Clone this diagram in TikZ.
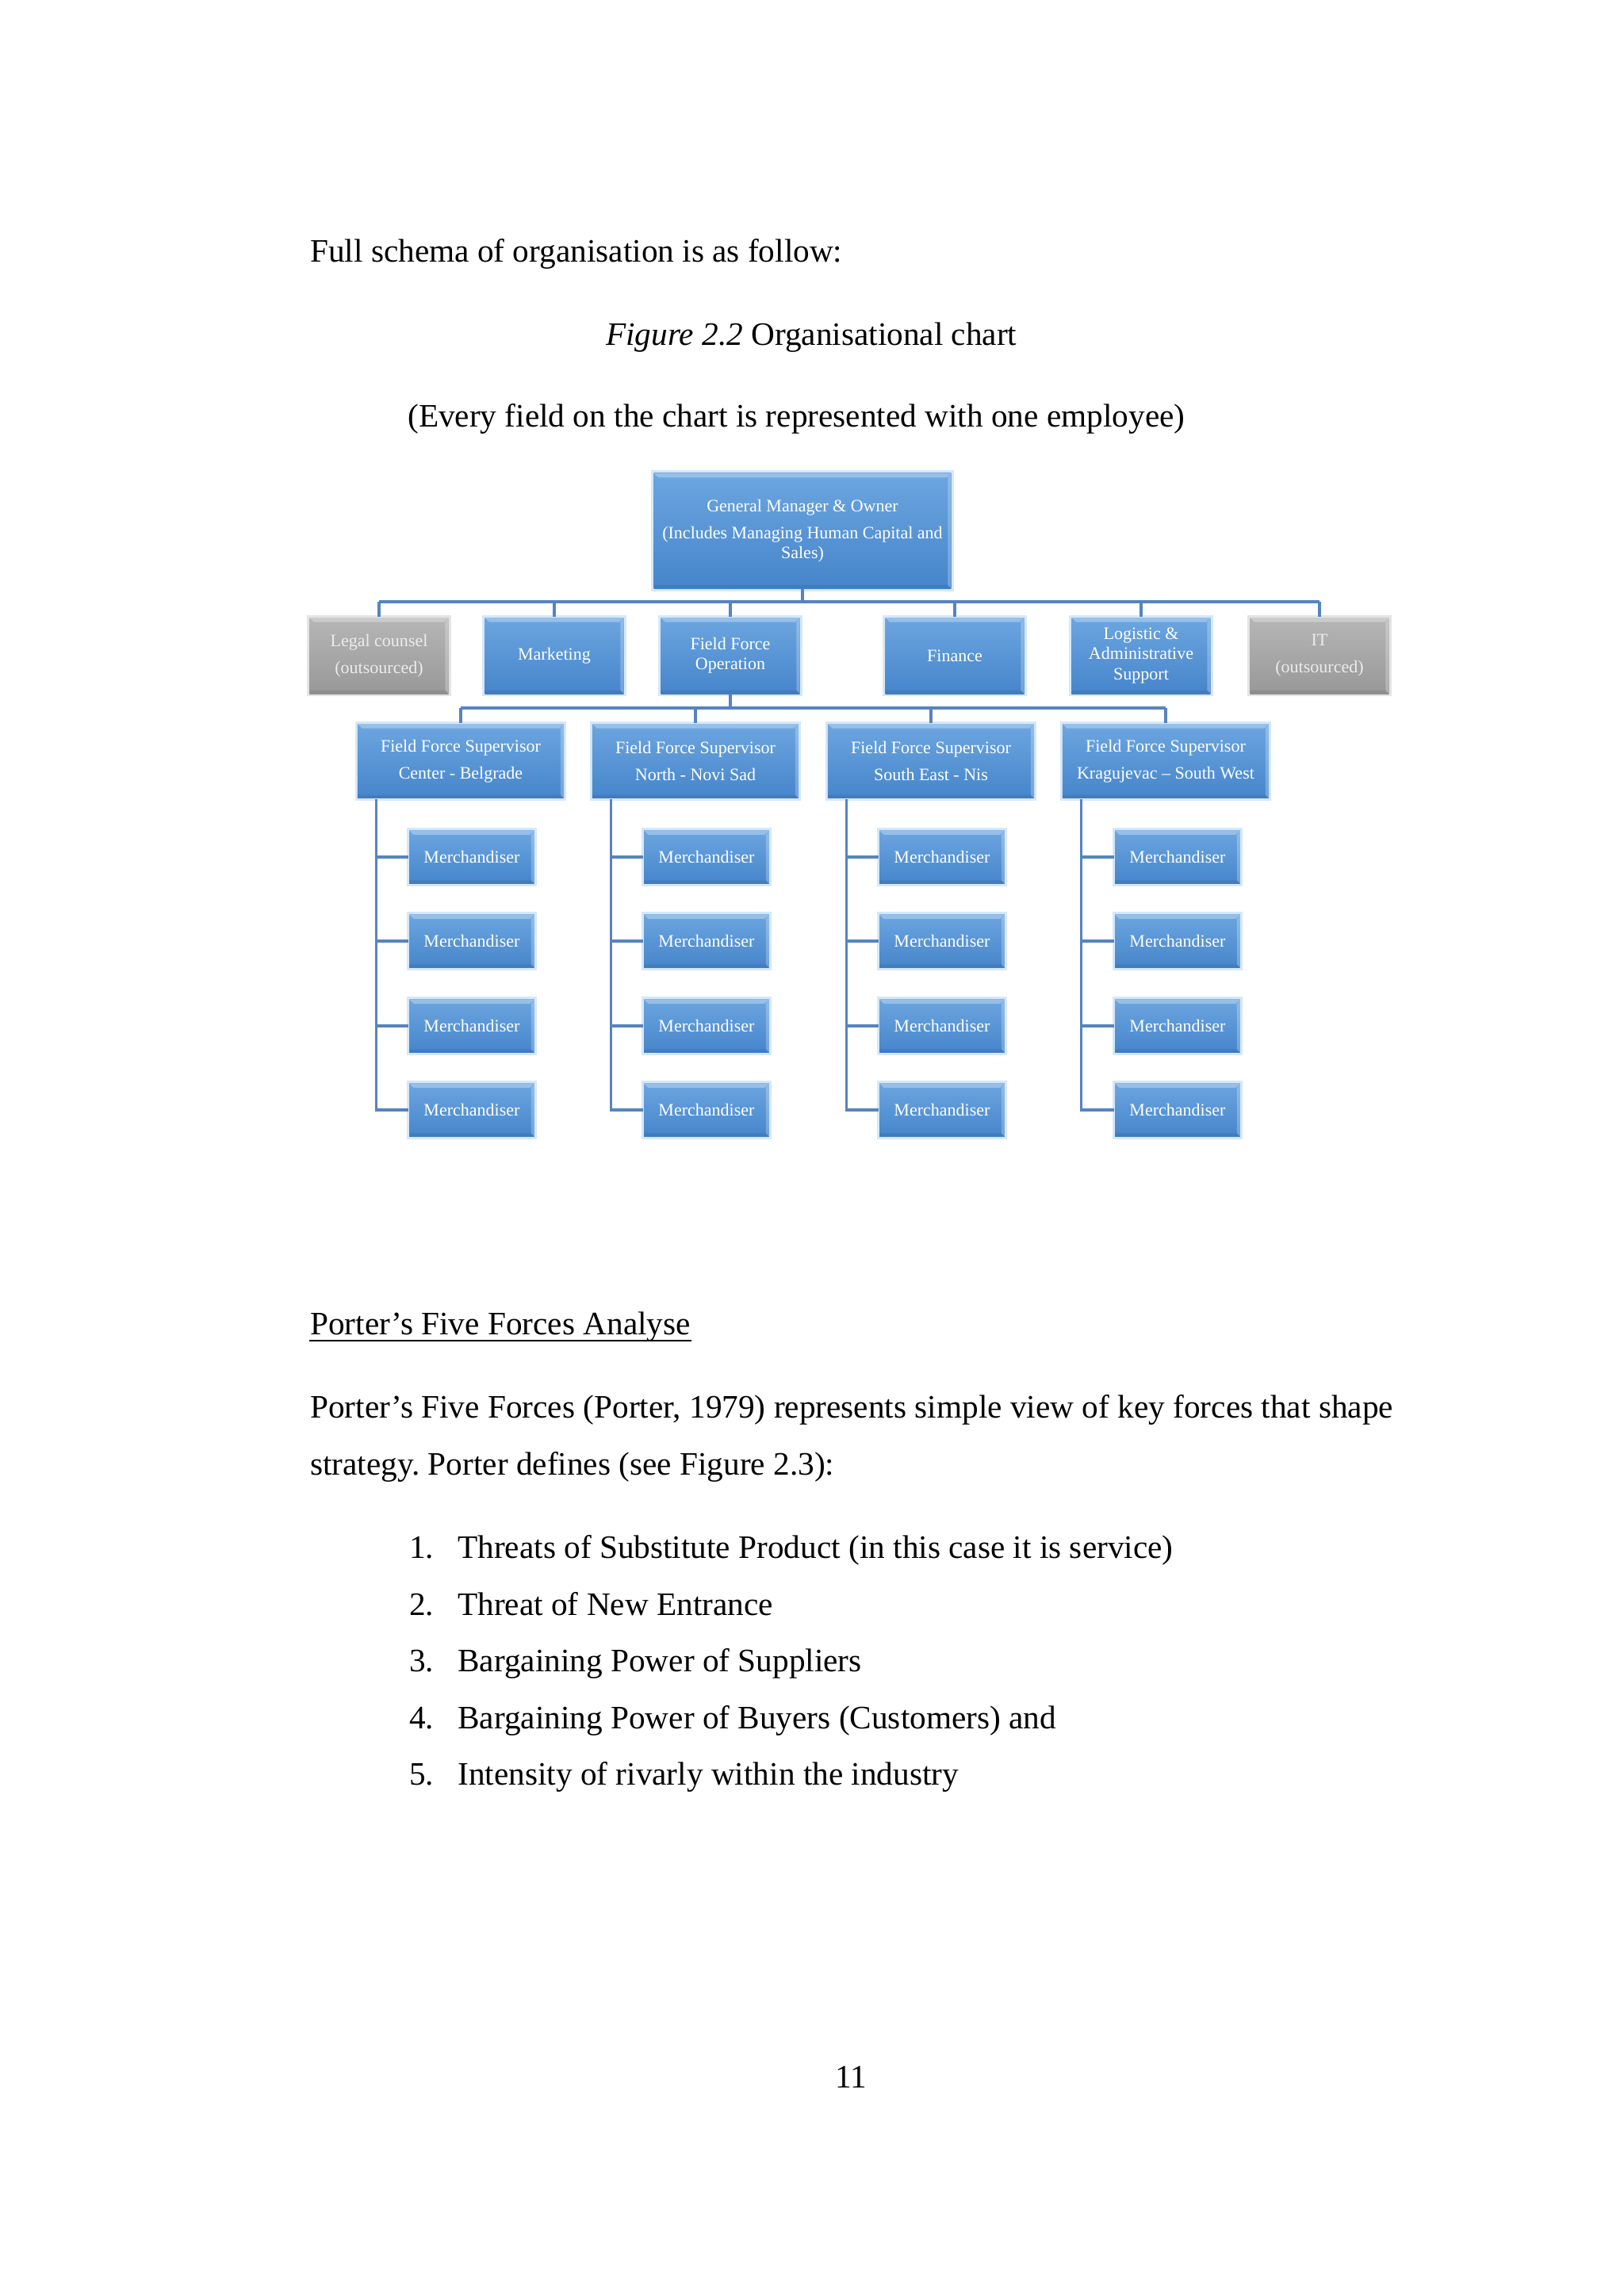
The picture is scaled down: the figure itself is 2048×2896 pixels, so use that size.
\documentclass[tikz,border=0pt]{standalone}
\usepackage{fontspec}
\setmainfont{Liberation Serif}

\definecolor{boxtop}{RGB}{108,166,224}
\definecolor{boxbot}{RGB}{70,133,203}
\definecolor{glowblue}{RGB}{214,232,249}
\definecolor{greytop}{RGB}{182,182,182}
\definecolor{greybot}{RGB}{152,152,152}
\definecolor{glowgrey}{RGB}{228,228,228}
\definecolor{greytext}{RGB}{236,236,236}
\definecolor{linkblue}{RGB}{86,132,190}

\newcommand{\chartfont}{\fontsize{6.4}{7.3}\selectfont}

\tikzset{every picture/.style={line width=0.75pt}}
\tikzset{
  bevel/.style={path picture={
    \fill[white,opacity=0.3] (path picture bounding box.north west) -- (path picture bounding box.north east)
      -- ([xshift=-1.6pt,yshift=-1.6pt]path picture bounding box.north east) -- ([xshift=1.6pt,yshift=-1.6pt]path picture bounding box.north west) -- cycle;
    \fill[white,opacity=0.25] (path picture bounding box.north east) -- (path picture bounding box.south east)
      -- ([xshift=-1.2pt,yshift=1.2pt]path picture bounding box.south east) -- ([xshift=-1.2pt,yshift=-1.6pt]path picture bounding box.north east) -- cycle;
    \fill[black,opacity=0.07] (path picture bounding box.south west) -- (path picture bounding box.south east)
      -- ([xshift=-1.2pt,yshift=1.2pt]path picture bounding box.south east) -- ([yshift=1.2pt]path picture bounding box.south west) -- cycle;
  }},
  orgbox/.style={rectangle, inner sep=1pt, align=center, font=\chartfont, bevel},
  bluebox/.style={orgbox, text=white, top color=boxtop, bottom color=boxbot, preaction={draw=glowblue, line width=2pt}},
  greybox/.style={orgbox, text=greytext, top color=greytop, bottom color=greybot, preaction={draw=glowgrey, line width=2pt}},
  headbox/.style={bluebox, minimum width=109pt, minimum height=42.2pt},
  deptbox/.style={minimum width=50.9pt, minimum height=27.9pt},
  supbox/.style={bluebox, minimum width=75.6pt, minimum height=27.3pt},
  merchbox/.style={bluebox, minimum width=45.9pt, minimum height=19.5pt},
  link/.style={draw=linkblue, line width=0.9pt},
  bodytext/.style={anchor=base west, inner sep=0pt, font=\fontsize{12}{14}\selectfont\frenchspacing},
}

\begin{document}
\begin{tikzpicture}[x=0.2907pt,y=-0.2907pt]
%page of 2048 x 2896
\useasboundingbox[fill=white] (0,0) rectangle (2048,2896);

% Text Node
\node[bodytext] (intro) at (390,330) {Full schema of organisation is as follow:};
% Text Node
\node[bodytext] (caption) at (763,435) {\textit{Figure 2.2} Organisational chart};
% Text Node
\node[bodytext] (note) at (513,538) {(Every field on the chart is represented with one employee)};

%Shape: Rectangle [head]
\node[headbox] (gm) at (1012,669.5) {General Manager \& Owner\\[2.6pt](Includes Managing Human Capital and\\Sales)};

%Shape: Rectangle [departments]
\node[greybox, deptbox] (legal) at (478,827) {Legal counsel\\[2.6pt](outsourced)};
\node[bluebox, deptbox] (mkt) at (699,827) {Marketing};
\node[bluebox, deptbox] (ffo) at (921,827) {Field Force\\Operation};
\node[bluebox, deptbox] (fin) at (1204,827) {Finance};
\node[bluebox, deptbox] (logi) at (1439,827) {Logistic \&\\Administrative\\Support};
\node[greybox, deptbox] (it) at (1664,827) {IT\\[2.6pt](outsourced)};

%Lines [head to departments]
\coordinate (busa) at (1012,759);
\draw[link] (gm.south) -- (busa);
\draw[link] (busa -| legal.north) -- (busa -| it.north);
\draw[link] (busa -| legal.north) -- (legal.north);
\draw[link] (busa -| mkt.north) -- (mkt.north);
\draw[link] (busa -| ffo.north) -- (ffo.north);
\draw[link] (busa -| fin.north) -- (fin.north);
\draw[link] (busa -| logi.north) -- (logi.north);
\draw[link] (busa -| it.north) -- (it.north);

%Shape: Rectangle [supervisors]
\node[supbox] (supa) at (581,960) {Field Force Supervisor\\[2.6pt]Center - Belgrade};
\node[supbox] (supb) at (877,960) {Field Force Supervisor\\[2.6pt]North - Novi Sad};
\node[supbox] (supc) at (1174,960) {Field Force Supervisor\\[2.6pt]South East - Nis};
\node[supbox] (supd) at (1470,960) {Field Force Supervisor\\[2.6pt]Kragujevac -- South West};

%Lines [field force to supervisors]
\coordinate (busb) at (921,893);
\draw[link] (ffo.south) -- (busb);
\draw[link] (busb -| supa.north) -- (busb -| supd.north);
\draw[link] (busb -| supa.north) -- (supa.north);
\draw[link] (busb -| supb.north) -- (supb.north);
\draw[link] (busb -| supc.north) -- (supc.north);
\draw[link] (busb -| supd.north) -- (supd.north);

%Shape: Rectangle [merchandisers, Belgrade]
\node[merchbox] (ma1) at (595,1081) {Merchandiser};
\node[merchbox] (ma2) at (595,1187) {Merchandiser};
\node[merchbox] (ma3) at (595,1294) {Merchandiser};
\node[merchbox] (ma4) at (595,1400) {Merchandiser};
%Shape: Rectangle [merchandisers, Novi Sad]
\node[merchbox] (mb1) at (891,1081) {Merchandiser};
\node[merchbox] (mb2) at (891,1187) {Merchandiser};
\node[merchbox] (mb3) at (891,1294) {Merchandiser};
\node[merchbox] (mb4) at (891,1400) {Merchandiser};
%Shape: Rectangle [merchandisers, Nis]
\node[merchbox] (mc1) at (1188,1081) {Merchandiser};
\node[merchbox] (mc2) at (1188,1187) {Merchandiser};
\node[merchbox] (mc3) at (1188,1294) {Merchandiser};
\node[merchbox] (mc4) at (1188,1400) {Merchandiser};
%Shape: Rectangle [merchandisers, Kragujevac]
\node[merchbox] (md1) at (1485,1081) {Merchandiser};
\node[merchbox] (md2) at (1485,1187) {Merchandiser};
\node[merchbox] (md3) at (1485,1294) {Merchandiser};
\node[merchbox] (md4) at (1485,1400) {Merchandiser};

%Lines [supervisors to merchandisers]
\coordinate (spa) at ([xshift=7.3pt]supa.south west);
\coordinate (spb) at ([xshift=7.3pt]supb.south west);
\coordinate (spc) at ([xshift=7.3pt]supc.south west);
\coordinate (spd) at ([xshift=7.3pt]supd.south west);
\draw[link] (spa) |- (ma4.west);
\draw[link] (spa |- ma1.west) -- (ma1.west);
\draw[link] (spa |- ma2.west) -- (ma2.west);
\draw[link] (spa |- ma3.west) -- (ma3.west);
\draw[link] (spb) |- (mb4.west);
\draw[link] (spb |- mb1.west) -- (mb1.west);
\draw[link] (spb |- mb2.west) -- (mb2.west);
\draw[link] (spb |- mb3.west) -- (mb3.west);
\draw[link] (spc) |- (mc4.west);
\draw[link] (spc |- mc1.west) -- (mc1.west);
\draw[link] (spc |- mc2.west) -- (mc2.west);
\draw[link] (spc |- mc3.west) -- (mc3.west);
\draw[link] (spd) |- (md4.west);
\draw[link] (spd |- md1.west) -- (md1.west);
\draw[link] (spd |- md2.west) -- (md2.west);
\draw[link] (spd |- md3.west) -- (md3.west);

% Text Node
\node[bodytext] (porterhead) at (390,1683) {Porter’s Five Forces Analyse};
\draw[line width=0.6pt] ([yshift=-2.3pt]porterhead.base west) -- ([yshift=-2.3pt]porterhead.base east);
% Text Node
\node[bodytext] (porterone) at (390,1788) {\makebox[397pt][s]{Porter’s Five Forces (Porter, 1979) represents simple view of key forces that shape}};
% Text Node
\node[bodytext] (portertwo) at (390,1860) {strategy. Porter defines (see Figure 2.3):};
% Text Node
\node[bodytext] (numone) at (515,1965) {1.};
\node[bodytext] (itemone) at (576,1965) {Threats of Substitute Product (in this case it is service)};
\node[bodytext] (numtwo) at (515,2037) {2.};
\node[bodytext] (itemtwo) at (576,2037) {Threat of New Entrance};
\node[bodytext] (numthree) at (515,2108) {3.};
\node[bodytext] (itemthree) at (576,2108) {Bargaining Power of Suppliers};
\node[bodytext] (numfour) at (515,2180) {4.};
\node[bodytext] (itemfour) at (576,2180) {Bargaining Power of Buyers (Customers) and};
\node[bodytext] (numfive) at (515,2251) {5.};
\node[bodytext] (itemfive) at (576,2251) {Intensity of rivarly within the industry};
% Text Node
\node[bodytext, anchor=base] (pageno) at (1073,2633) {11};

\end{tikzpicture}
\end{document}
